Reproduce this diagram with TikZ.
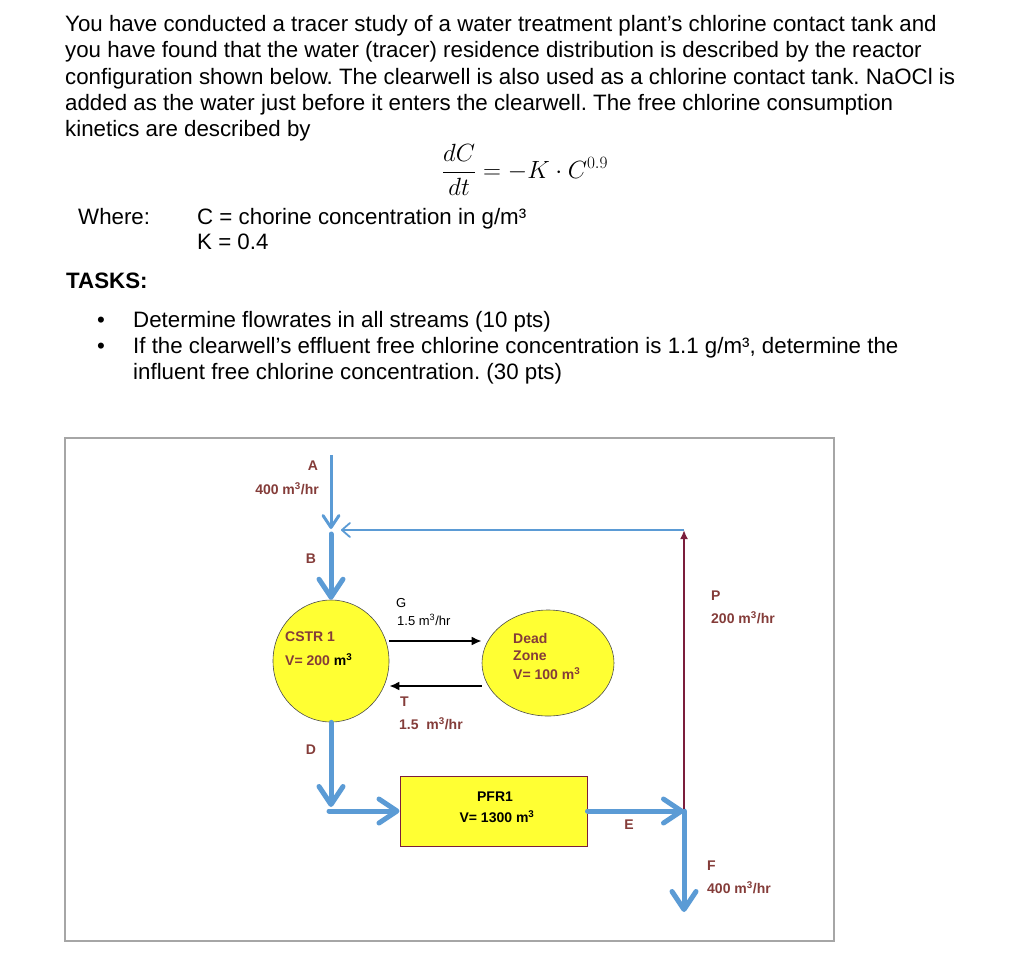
\documentclass[tikz,border=0pt]{standalone}
\usepackage{fontspec}
\setmainfont{Liberation Sans}
\usetikzlibrary{arrows.meta,shapes.geometric}
\definecolor{flowblue}{HTML}{5B9BD5}
\definecolor{lblred}{HTML}{843C39}
\definecolor{recyclered}{HTML}{7B1E3C}
\definecolor{tankyellow}{HTML}{FFFF33}
\definecolor{framegray}{HTML}{A6A6A6}
\frenchspacing
\begin{document}
\begin{tikzpicture}[x=1pt,y=-1pt,
  body/.style={font=\fontsize{22.3}{26}\selectfont, anchor=base west, inner sep=0pt},
  lbl/.style={font=\fontsize{14}{16}\selectfont\bfseries, text=lblred, inner sep=0pt},
  lblw/.style={lbl, anchor=west},
  blk/.style={font=\fontsize{13}{15}\selectfont, text=black, inner sep=0pt, anchor=west},
  tank/.style={ellipse, draw=black!70, line width=0.6pt, fill=tankyellow, inner sep=0pt},
  flowthick/.style={draw=flowblue, line width=5pt, line cap=round,
    -{Straight Barb[round, length=18pt, width=24pt, line width=5pt]}},
  flowmid/.style={draw=flowblue, line width=3pt,
    -{Straight Barb[round, length=12pt, width=16pt, line width=3pt]}},
  flowthin/.style={draw=flowblue, line width=1.8pt,
    -{Straight Barb[round, length=8pt, width=14pt, line width=1.8pt]}},
  recycle/.style={draw=recyclered, line width=1.8pt, -{Latex[length=9pt, width=8pt]}},
  exch/.style={draw=black, line width=2.4pt, -{Latex[length=10pt, width=9pt]}}
]
\useasboundingbox (0,0) rectangle (1024,958);

% ---- problem text ----
\node[body] (t1) at (65,32) {You have conducted a tracer study of a water treatment plant’s chlorine contact tank and};
\node[body] (t2) at (65,58) {you have found that the water (tracer) residence distribution is described by the reactor};
\node[body] (t3) at (65,84) {configuration shown below. The clearwell is also used as a chlorine contact tank. NaOCl is};
\node[body] (t4) at (65,110) {added as the water just before it enters the clearwell. The free chlorine consumption};
\node[body] (t5) at (65,136) {kinetics are described by};
\node[inner sep=0pt, font=\fontsize{24}{28}\selectfont] (eq) at (525,170) {$\displaystyle\frac{dC}{dt} = -K\cdot C^{0.9}$};
\node[body] (wh) at (78,224) {Where:};
\node[body] (wc) at (197,224) {C = chorine concentration in g/m³};
\node[body] (wk) at (197,249) {K = 0.4};
\node[body, font=\fontsize{22.3}{26}\selectfont\bfseries] (tasks) at (66,288) {TASKS:};
\node[body] (b1) at (97,327) {•};
\node[body] (b1t) at (133,327) {Determine flowrates in all streams (10 pts)};
\node[body] (b2) at (97,353) {•};
\node[body] (b2t) at (133,353) {If the clearwell’s effluent free chlorine concentration is 1.1 g/m³, determine the};
\node[body] (b2u) at (133,379) {influent free chlorine concentration. (30 pts)};

% ---- diagram frame ----
\draw[framegray, line width=1.5pt] (65,438) rectangle (834,941);

% ---- units ----
\node[tank, minimum width=116pt, minimum height=122pt] (cstr) at (331,661) {};
\node[tank, minimum width=132pt, minimum height=106pt] (dead) at (548,663) {};
\node[draw=recyclered, line width=1pt, fill=tankyellow, minimum width=187pt, minimum height=70pt, inner sep=0pt] (pfr) at (493.5,811) {};

% ---- junction points ----
\coordinate (a0) at (331,455);
\coordinate (a1) at (331,529);
\coordinate (b0) at (331,534);
\coordinate (pj) at (684,530);
\coordinate (rt) at (341,530);
\coordinate (d1) at (331,807);
\coordinate (d2) at (329,811);
\coordinate (ej) at (684,811);
\coordinate (ejs) at (684,809);
\coordinate (f1) at (684,912);

% ---- streams ----
\draw[flowmid] (a0) -- (a1);
\draw[flowthin] (pj) -- (rt);
\draw[flowthick] (b0) -- (cstr.north);
\draw[flowthick] (cstr.south) -- (d1);
\draw[flowthick] (d2) -- (pfr.west);
\draw[flowthick] (pfr.east) -- (ej);
\draw[flowthick] (ej) -- (f1);
\draw[recycle] (ejs) -- (pj);
\draw[exch] (cstr.east |- 0,641) -- (dead.west |- 0,641);
\draw[exch] (dead.west |- 0,686) -- (cstr.east |- 0,686);

% ---- labels ----
\node[lbl] (la) at (313,466) {A};
\node[lbl, anchor=east] (lqa) at (319,489) {400 m\textsuperscript{3}/hr};
\node[lbl] (lb) at (311,559) {B};
\node[blk] (lg) at (396,603) {G};
\node[blk] (lqg) at (397,620) {1.5 m\textsuperscript{3}/hr};
\node[lblw] (lc1) at (285,637) {CSTR 1};
\node[lblw] (lc2) at (285,660) {V= 200 {\color{black}m\textsuperscript{3}}};
\node[lblw] (ld1) at (513,638) {Dead};
\node[lblw] (ld2) at (513,656) {Zone};
\node[lblw] (ld3) at (513,674) {V= 100 m\textsuperscript{3}};
\node[lblw] (lt) at (400,702) {T};
\node[lblw] (lqt) at (399,724) {1.5\ \ m\textsuperscript{3}/hr};
\node[lbl] (ld) at (311,750) {D};
\node[lbl, text=black] (lp1) at (495,797) {PFR1};
\node[lbl, text=black] (lp2) at (497,817) {V= 1300 m\textsuperscript{3}};
\node[lbl] (le) at (629,825) {E};
\node[lblw] (lpp) at (711,596) {P};
\node[lblw] (lqp) at (711,618) {200 m\textsuperscript{3}/hr};
\node[lblw] (lf) at (707,866) {F};
\node[lblw] (lqf) at (707,888) {400 m\textsuperscript{3}/hr};
\end{tikzpicture}
\end{document}
